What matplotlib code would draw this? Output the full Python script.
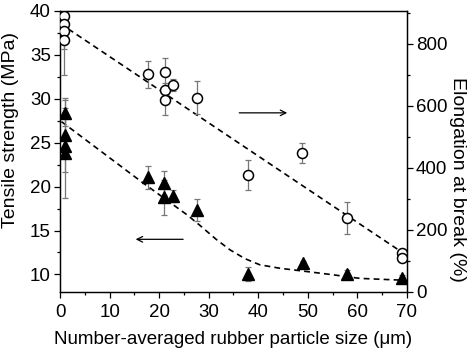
import matplotlib
matplotlib.use("Agg")
from matplotlib import pyplot as plt
from matplotlib.ticker import MultipleLocator

plt.rcParams["font.family"] = ["Liberation Sans", "DejaVu Sans"]

# tensile strength (left axis, filled triangles)
size_t = [1, 1, 1, 1, 17.8, 21, 21, 22.7, 27.6, 37.9, 49, 58, 68.9]
tensile = [28.4, 25.9, 24.6, 23.8, 21.05, 20.4, 18.8, 18.9, 17.3, 10.1, 11.25, 10.1, 9.55]
tensile_err = [1.5, 4.2, 1.0, 5.1, 1.3, 1.4, 2.0, 0.7, 1.25, 0.8, 0.3, 0.4, 0.4]

# elongation at break (right axis, open circles)
size_e = [0.8, 0.8, 0.8, 0.8, 17.8, 21.1, 21.1, 21.1, 22.7, 27.6, 37.9, 48.9, 58, 68.9, 68.9]
elong = [890, 864, 840, 810, 701, 708, 652, 617, 666, 625, 376, 448, 239, 124, 109]
elong_err = [20, 20, 57, 110, 44, 47, 20, 48, 20, 53, 49, 33, 52, 10, 10]

# dashed trend lines
fit_t_x = [0.3, 16.8, 25.6, 28.2, 31.5, 34.3, 37.3, 40.3, 44.4, 49.5, 54.5, 60.5, 68.9]
fit_t = [27.4, 20.4, 16.8, 15.6, 14.0, 12.8, 11.8, 11.1, 10.7, 10.35, 10.0, 9.55, 9.35]
fit_e_x = [0, 69]
fit_e = [865, 128]

fig = plt.figure(figsize=(4.74, 3.51), dpi=100)
ax = fig.add_axes([0.1266, 0.1681, 0.732, 0.8006])
ax2 = ax.twinx()

ax.plot(fit_t_x, fit_t, ls=(0, (3.5, 2.5)), color="black", lw=1.2, zorder=2)
ax.errorbar(size_t, tensile, yerr=tensile_err, fmt="none", ecolor="#777777",
            elinewidth=0.9, capsize=2.5, capthick=0.9, zorder=3)
ax.plot(size_t, tensile, "^", color="black", ms=8.5, zorder=4)

ax2.plot(fit_e_x, fit_e, ls=(0, (3.5, 2.5)), color="black", lw=1.2, zorder=2)
ax2.errorbar(size_e, elong, yerr=elong_err, fmt="none", ecolor="#777777",
             elinewidth=0.9, capsize=2.5, capthick=0.9, zorder=3)
ax2.plot(size_e, elong, "o", mfc="white", mec="black", mew=1.1, ms=7.2, zorder=4)

# arrows pointing to each axis
ax.annotate("", xy=(14.7, 14.0), xytext=(25.4, 14.0),
            arrowprops=dict(arrowstyle="->", color="black", lw=0.9))
ax.annotate("", xy=(46.4, 28.4), xytext=(35.6, 28.4),
            arrowprops=dict(arrowstyle="->", color="black", lw=0.9))

ax.set_xlim(0, 70)
ax.set_ylim(8, 40)
ax2.set_ylim(0, 905)

ax.xaxis.set_major_locator(MultipleLocator(10))
ax.xaxis.set_minor_locator(MultipleLocator(5))
ax.yaxis.set_major_locator(MultipleLocator(5))
ax.yaxis.set_minor_locator(MultipleLocator(2.5))
ax2.yaxis.set_major_locator(MultipleLocator(200))
ax2.yaxis.set_minor_locator(MultipleLocator(100))

for a in (ax, ax2):
    a.tick_params(which="major", direction="out", length=4.5, width=0.9,
                  labelsize=13.5, pad=2)
    a.tick_params(which="minor", direction="out", length=2.5, width=0.9)
    for s in a.spines.values():
        s.set_linewidth(0.9)
ax.tick_params(axis="y", which="both", right=False)
ax.tick_params(axis="x", which="major", pad=4)

ax.set_xlabel("Number-averaged rubber particle size (\u03bcm)", fontsize=13.5, labelpad=7)
ax.set_ylabel("Tensile strength (MPa)", fontsize=14)
ax2.set_ylabel("Elongation at break (%)", fontsize=14, rotation=270)
ax.yaxis.set_label_coords(-0.118, 0.577)
ax2.yaxis.set_label_coords(1.17, 0.40)

fig.savefig("out.png", dpi=100)
